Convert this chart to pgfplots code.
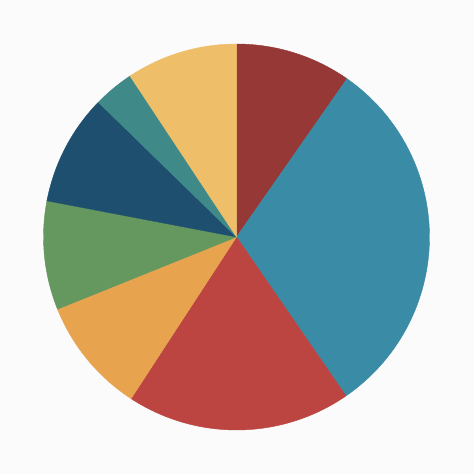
\documentclass[border=0pt]{standalone}
\usepackage{pgfplots}
\usepackage{pgfplotstable}
\pgfplotsset{compat=1.18}

\definecolor{sdarkred}{HTML}{963836}
\definecolor{sblue}{HTML}{3A8BA6}
\definecolor{sred}{HTML}{BD4541}
\definecolor{sorange}{HTML}{E8A34F}
\definecolor{sgreen}{HTML}{64985E}
\definecolor{snavy}{HTML}{1F4F6E}
\definecolor{steal}{HTML}{3F8A89}
\definecolor{syellow}{HTML}{EEBF68}
\definecolor{bgwhite}{HTML}{FBFBFC}

% slices, clockwise from 12 o'clock, in percent
\pgfplotstableread{
value colour
9.7   sdarkred
30.7  sblue
18.8  sred
9.7   sorange
9.1   sgreen
9.3   snavy
3.4   steal
9.3   syellow
}\piedata

\begin{document}
\begin{tikzpicture}
\def\cum{0}
\begin{axis}[
    x=5cm, y=5cm,
    xmin=-1.2254, xmax=1.2306,
    ymin=-1.228, ymax=1.228,
    axis line style={draw=none},
    ticks=none,
    clip=false,
    axis background/.style={fill=bgwhite},
]
\pgfplotsinvokeforeach{0,...,7}{
    \pgfplotstablegetelem{#1}{value}\of\piedata
    \let\sliceval\pgfplotsretval
    \pgfplotstablegetelem{#1}{colour}\of\piedata
    \let\slicecol\pgfplotsretval
    \pgfmathsetmacro\angA{90-3.6*\cum}
    \pgfmathsetmacro\angB{90-3.6*(\cum+\sliceval)}
    \edef\doslice{\noexpand\fill[\slicecol, draw=\slicecol, line width=0.3pt]
        (axis cs:0,0) -- ++(\angA:5cm)
        arc[start angle=\angA, end angle=\angB, radius=5cm] -- cycle;}
    \doslice
    \pgfmathsetmacro\newcum{\cum+\sliceval}
    \xdef\cum{\newcum}
}
\end{axis}
\end{tikzpicture}
\end{document}
